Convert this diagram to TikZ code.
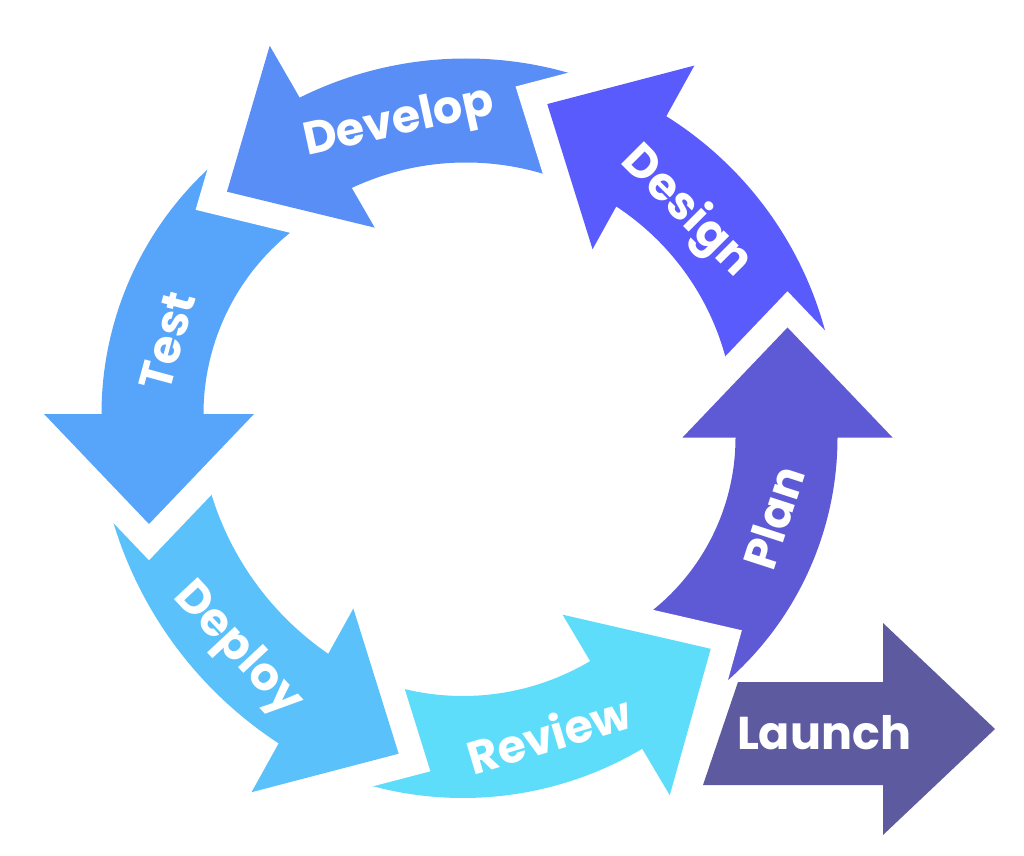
\documentclass[tikz,border=0pt]{standalone}
\usepackage{fontspec}
\newfontfamily\labfont{Poppins}
\definecolor{cDevelop}{HTML}{5A8EF7}
\definecolor{cTest}{HTML}{57A5FA}
\definecolor{cDeploy}{HTML}{5BC1FB}
\definecolor{cReview}{HTML}{5EDDFB}
\definecolor{cPlan}{HTML}{5E5AD6}
\definecolor{cDesign}{HTML}{5A5BFD}
\definecolor{cLaunch}{HTML}{5D5A9F}
\tikzset{
  lab/.style={font=\labfont\bfseries\fontsize{46}{46}\selectfont, text=white, inner sep=0pt, anchor=center},
  gapline/.style={draw=white, line width=50pt, line join=miter},
}
% body of a ring arrow: cx, cy, R, w, start angle (tail), end angle, colour
\newcommand\ringbody[7]{%
  \begin{scope}[shift={(#1,#2)}]
    \fill[#7] (#5:{#3+#4}) arc[start angle=#5, end angle=#6, radius={#3+#4}]
      -- (#6:{#3-#4}) arc[start angle=#6, end angle=#5, radius={#3-#4}] -- cycle;
  \end{scope}}
% head of a ring arrow: cx, cy, radius, angle, base direction, colour
\newcommand\ringhead[6]{%
  \begin{scope}[shift={(#1,#2)}]
    \begin{scope}[shift={(#4:#3)}, rotate=#5]
      \draw[gapline] (105,0) -- (0,110) -- (-105,0);
      \fill[#6] (105,0) -- (0,110) -- (-105,0) -- cycle;
    \end{scope}
  \end{scope}}
\begin{document}
\begin{tikzpicture}[x=1pt,y=1pt]
\fill[white] (0,0) rectangle (1024,855);
\useasboundingbox (0,0) rectangle (1024,855);
% bodies
\ringbody{466}{423.5}{321}{52}{71}{118}{cDevelop}
\ringbody{436.5}{441}{284}{51}{123}{182}{cTest}
\ringbody{498.3}{448.3}{351}{51}{191}{238.3}{cDeploy}
\ringbody{463}{408}{300}{51}{251}{302.7}{cReview}
\ringbody{514}{417.5}{272.5}{51}{-55}{2}{cPlan}
\ringbody{472.6}{429.4}{313.5}{51.5}{9}{59.5}{cDesign}
% heads
\ringhead{466}{423.5}{328}{116}{120}{cDevelop}
\ringhead{436.5}{441}{287.5}{180}{180}{cTest}
\ringhead{498.3}{448.3}{353}{236.3}{241}{cDeploy}
\ringhead{463}{408}{300}{300.7}{300.7}{cReview}
\ringhead{514}{417.5}{273.5}{0}{0}{cPlan}
\ringhead{472.6}{429.4}{318}{57.5}{61}{cDesign}
% launch arrow
\fill[cLaunch] (703,70) -- (738,173) -- (883,173) -- (883,232) -- (995,126)
  -- (883,20) -- (883,70) -- cycle;
% labels
\node[lab, rotate=12.3] (develop) at (399,731) {Develop};
\node[lab, rotate=-45] (design) at (686,643) {Design};
\node[lab, rotate=74.8] (test) at (167.5,514) {Test};
\node[lab, rotate=-47] (deploy) at (237,205) {Deploy};
\node[lab, rotate=16.7] (review) at (549,121.5) {Review};
\node[lab, rotate=72] (plan) at (774,337) {Plan};
\node[lab] (launch) at (824,122) {Launch};
\end{tikzpicture}
\end{document}
